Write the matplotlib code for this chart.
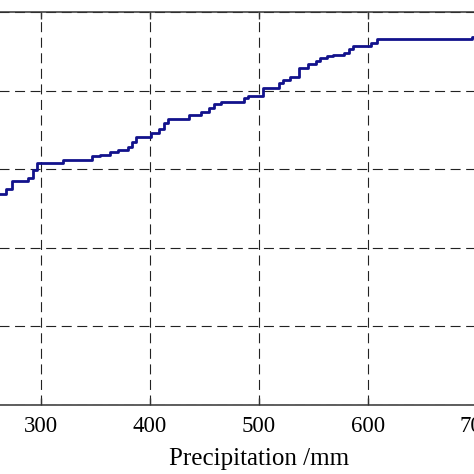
import matplotlib
matplotlib.use("Agg")
import matplotlib.pyplot as plt

precip_mm = [225.7, 248.6, 267.9, 273.4, 288.1, 292.7, 296.3, 320.2, 346.8, 354.1,
             363.3, 370.6, 379.8, 383.5, 387.2, 400.9, 408.3, 412.8, 416.5, 435.8,
             446.8, 454.1, 458.7, 465.1, 486.2, 489.9, 503.7, 518.3, 522.0, 528.4,
             536.7, 545.0, 552.3, 556.0, 562.4, 567.9, 578.0, 582.6, 586.2, 602.8,
             608.3, 695.4, 720.0]
cdf = [0.483, 0.537, 0.550, 0.570, 0.578, 0.598, 0.616, 0.623, 0.634, 0.636,
       0.644, 0.649, 0.656, 0.669, 0.682, 0.692, 0.702, 0.718, 0.728, 0.738,
       0.746, 0.756, 0.766, 0.771, 0.781, 0.786, 0.807, 0.819, 0.827, 0.835,
       0.858, 0.868, 0.875, 0.883, 0.888, 0.891, 0.896, 0.906, 0.913, 0.921,
       0.931, 0.936, 0.936]

x_ticks = [200, 300, 400, 500, 600, 700, 800]
y_ticks = [0.0, 0.2, 0.4, 0.6, 0.8, 1.0]
x_label = "Precipitation /mm"

fig = plt.figure(figsize=(4.74, 4.74), dpi=100)
ax = fig.add_axes([-68/474, 69/474, 654/474, 393/474])

ax.step(precip_mm, cdf, where="post", color="#12128c", lw=2.0, zorder=3)

ax.set_xlim(200, 800)
ax.set_ylim(0, 1)
ax.set_xticks(x_ticks)
ax.set_yticks(y_ticks)
ax.grid(True, color="#222222", lw=0.8, linestyle=(0, (9, 5)), zorder=1)

for s in ax.spines.values():
    s.set_color("#333333")
    s.set_linewidth(1.1)

ax.tick_params(direction="in", length=5, width=1.0, top=True, right=True,
               colors="#333333", labelcolor="black", pad=8)
for lab in ax.get_xticklabels() + ax.get_yticklabels():
    lab.set_family("Liberation Serif")
    lab.set_fontsize(16.5)
ax.set_xlabel(x_label, family="Liberation Serif", fontsize=18, labelpad=8)

fig.savefig("out.png", dpi=100)
